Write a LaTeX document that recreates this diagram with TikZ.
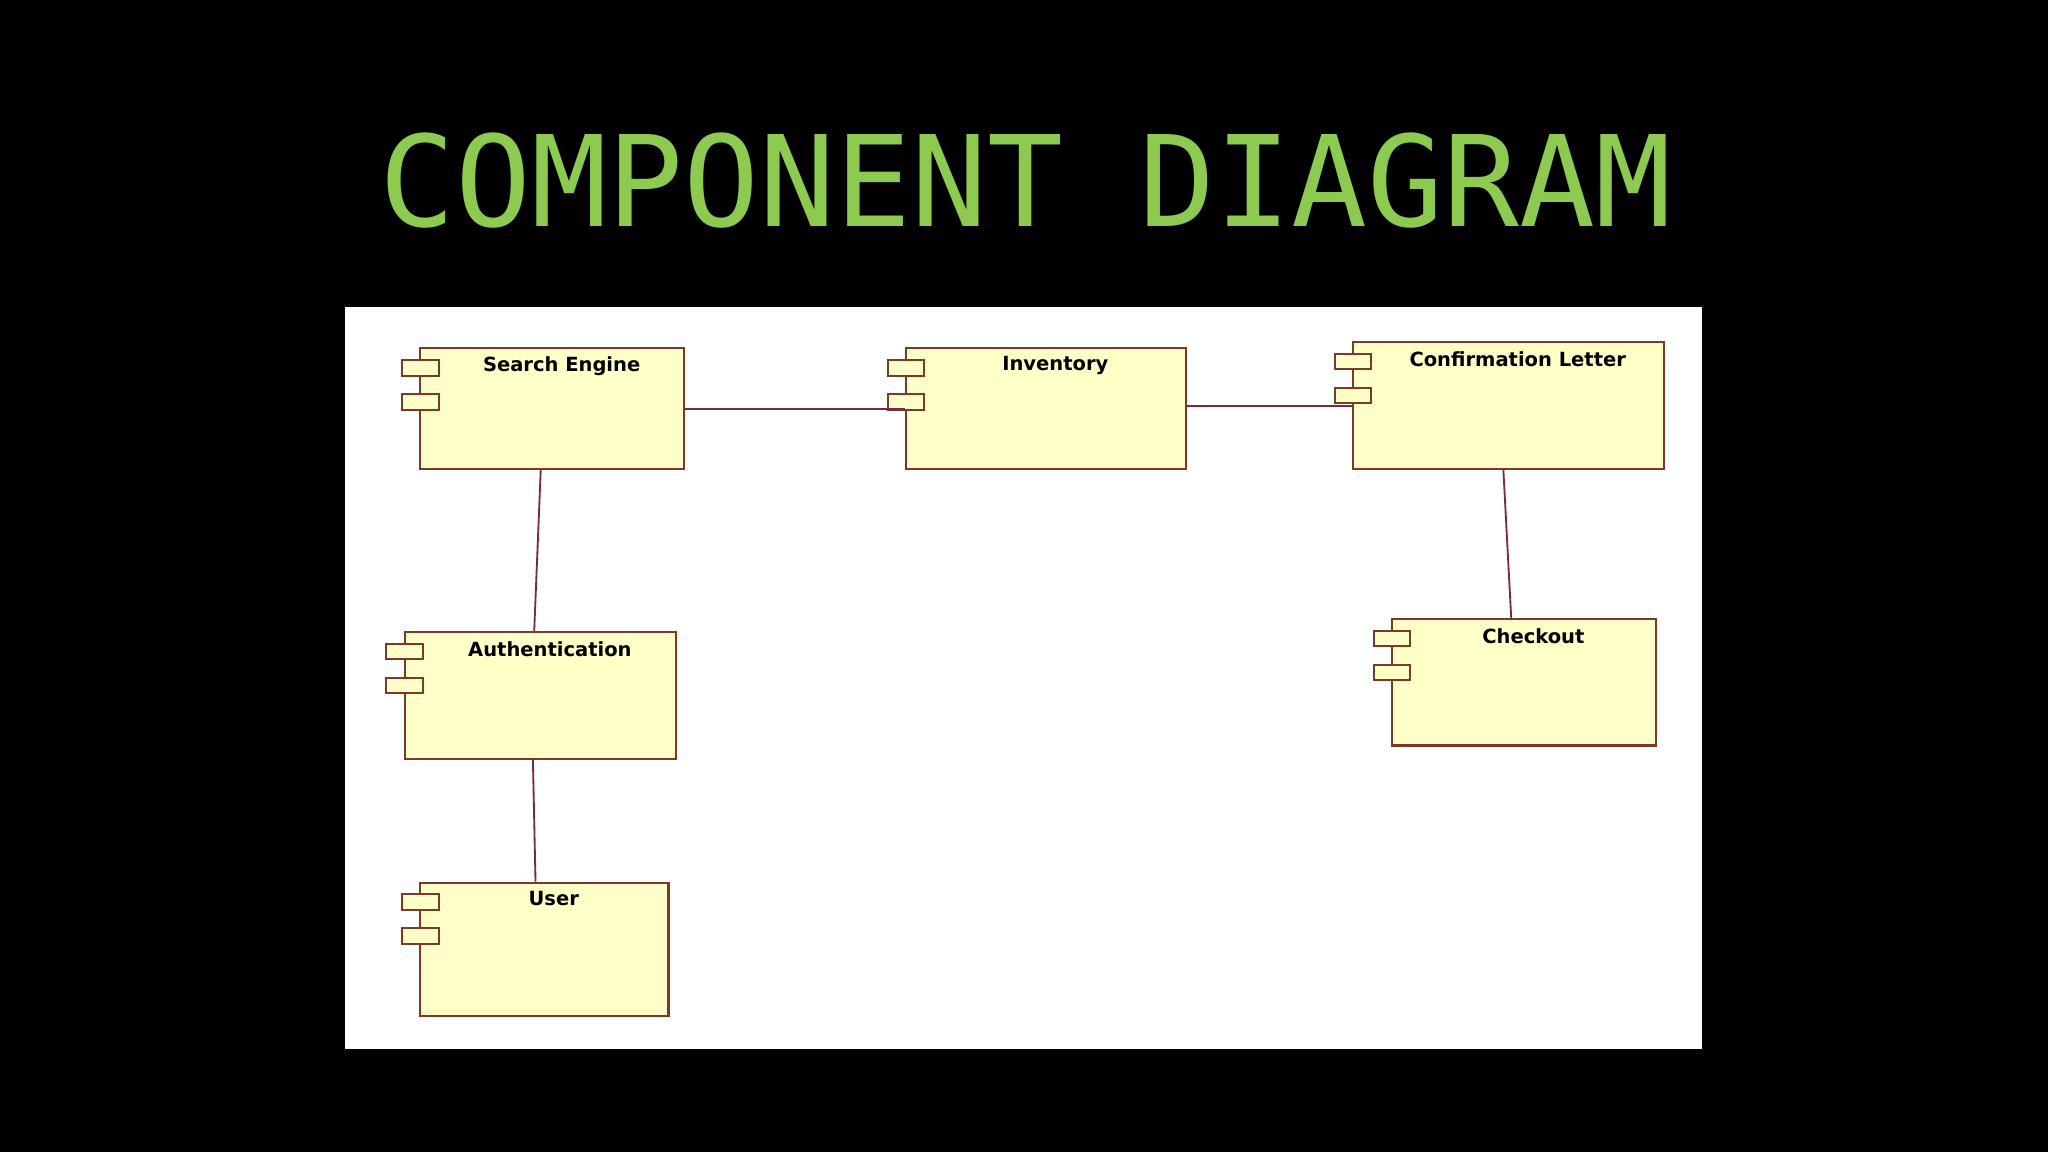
\documentclass[tikz,border=0pt]{standalone}
\usepackage{fontspec}
\setmainfont{DejaVu Sans}
\newfontfamily\titlefont{DejaVu Sans Mono}
\definecolor{ttl}{HTML}{8CCB50}
\definecolor{boxfill}{HTML}{FFFFC8}
\definecolor{boxline}{HTML}{7A3A2A}
\definecolor{wire}{HTML}{7A2A3A}
\tikzset{
 comp/.style={draw=boxline,fill=boxfill,line width=0.9pt,inner sep=0pt,anchor=north west},
 port/.style={draw=boxline,fill=boxfill,line width=0.9pt,inner sep=0pt,minimum width=0.56cm,minimum height=0.24cm,anchor=north west},
 lbl/.style={font=\bfseries\fontsize{8.5}{10}\selectfont,text=black},
 wireline/.style={draw=wire,line width=0.8pt}
}
\newcommand{\comp}[8]{% name, x1,y1,x2,y2, label, labelx, labely
 \node[comp,minimum width={(#4-#2)*0.02cm},minimum height={(#5-#3)*0.02cm}] (#1) at (#2,#3) {};
 \node[port] (#1p1) at (#2-14,#3+9) {};
 \node[port] (#1p2) at (#2-14,#3+35) {};
 \node[lbl] (#1l) at (#7,#8) {#6};
}
\begin{document}
\begin{tikzpicture}[x=0.02cm,y=-0.02cm]
\fill[black] (0,0) rectangle (1568,882);
\useasboundingbox (0,0) rectangle (1568,882);
\node[text=ttl,font=\titlefont\fontsize{55}{60}\selectfont] (title) at (785,138) {COMPONENT DIAGRAM};
\fill[white] (264,235) rectangle (1303,803);
\comp{se}{321}{266}{523}{358}{Search Engine}{430}{280}
\comp{inv}{693}{266}{907}{358}{Inventory}{808}{280}
\comp{cl}{1035}{261}{1273}{358}{Confirmation Letter}{1162}{275}
\comp{co}{1065}{473}{1267}{570}{Checkout}{1174}{487}
\comp{au}{309}{483}{517}{580}{Authentication}{421}{497}
\comp{us}{321}{675}{511}{777}{User}{424}{688}
\draw[wireline] (se.east |- 0,313) -- (inv.west |- 0,313);
\draw[wireline] (inv.east |- 0,311) -- (cl.west |- 0,311);
\draw[wireline] (se.south -| 414,0) -- (au.north -| 409,0);
\draw[wireline] (au.south -| 408,0) -- (us.north -| 410,0);
\draw[wireline] (cl.south -| 1151,0) -- (co.north -| 1157,0);
\end{tikzpicture}
\end{document}
